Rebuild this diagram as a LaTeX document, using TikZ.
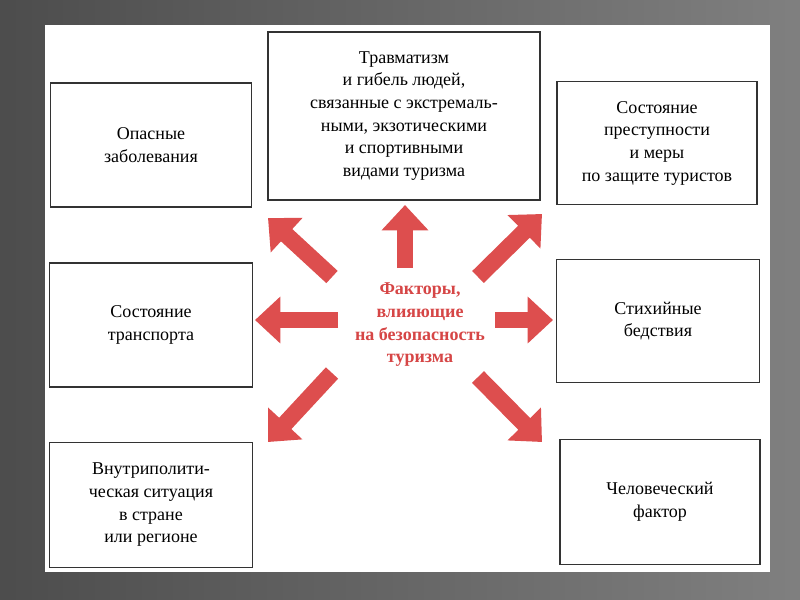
\documentclass[tikz,border=0pt]{standalone}
\usepackage{fontspec}
\setmainfont{Liberation Serif}
\usetikzlibrary{arrows.meta}
\definecolor{arrowred}{RGB}{221,78,78}
\definecolor{textred}{RGB}{214,70,70}
\tikzset{
  factorbox/.style={draw=black!80, line width=1pt, fill=white, align=center,
    font=\fontsize{13.5}{17}\selectfont, inner sep=2pt},
  bigarrow/.style={arrowred, line width=12.5pt,
    -{Triangle[width=34pt,length=19pt]}, shorten <=0pt}
}
\begin{document}
\begin{tikzpicture}[x=0.75pt,y=-0.75pt]
  % background
  \shade[left color=black!70, right color=black!50] (0,0) rectangle (800,600);
  \fill[white] (45,25) rectangle (770,572);

  % boxes
  \node[factorbox, minimum width=204pt, minimum height=126pt] (injury) at (404,116)
    {Травматизм\\и гибель людей,\\связанные с экстремаль-\\ными, экзотическими\\и спортивными\\видами туризма};
  \node[factorbox, minimum width=151pt, minimum height=93pt] (disease) at (151,145)
    {Опасные\\заболевания};
  \node[factorbox, minimum width=150pt, minimum height=92pt] (crime) at (657,143)
    {Состояние\\преступности\\и меры\\по защите туристов};
  \node[factorbox, minimum width=152pt, minimum height=93pt] (transport) at (151,325)
    {Состояние\\транспорта};
  \node[factorbox, minimum width=152pt, minimum height=92pt] (disaster) at (658,321)
    {Стихийные\\бедствия};
  \node[factorbox, minimum width=152pt, minimum height=94pt] (politics) at (151,505)
    {Внутриполити-\\ческая ситуация\\в стране\\или регионе};
  \node[factorbox, minimum width=150pt, minimum height=94pt] (human) at (660,502)
    {Человеческий\\фактор};

  % centre
  \node[textred, align=center, font=\bfseries\fontsize{13.5}{17}\selectfont] (factors) at (420,325)
    {Факторы,\\влияющие\\на безопасность\\туризма};

  % arrows
  \coordinate (up0) at (405,268);   \coordinate (up1) at (405,205);
  \coordinate (lt0) at (338,320);   \coordinate (lt1) at (255,320);
  \coordinate (rt0) at (495,320);   \coordinate (rt1) at (553,320);
  \coordinate (ul0) at (332,277);   \coordinate (ul1) at (268,218);
  \coordinate (ur0) at (478,277);   \coordinate (ur1) at (542,214);
  \coordinate (ll0) at (332,373);   \coordinate (ll1) at (268,442);
  \coordinate (lr0) at (478,377);   \coordinate (lr1) at (542,442);
  \foreach \a in {up,lt,rt,ul,ur,ll,lr}
    \draw[bigarrow] (\a0) -- (\a1);
\end{tikzpicture}
\end{document}
